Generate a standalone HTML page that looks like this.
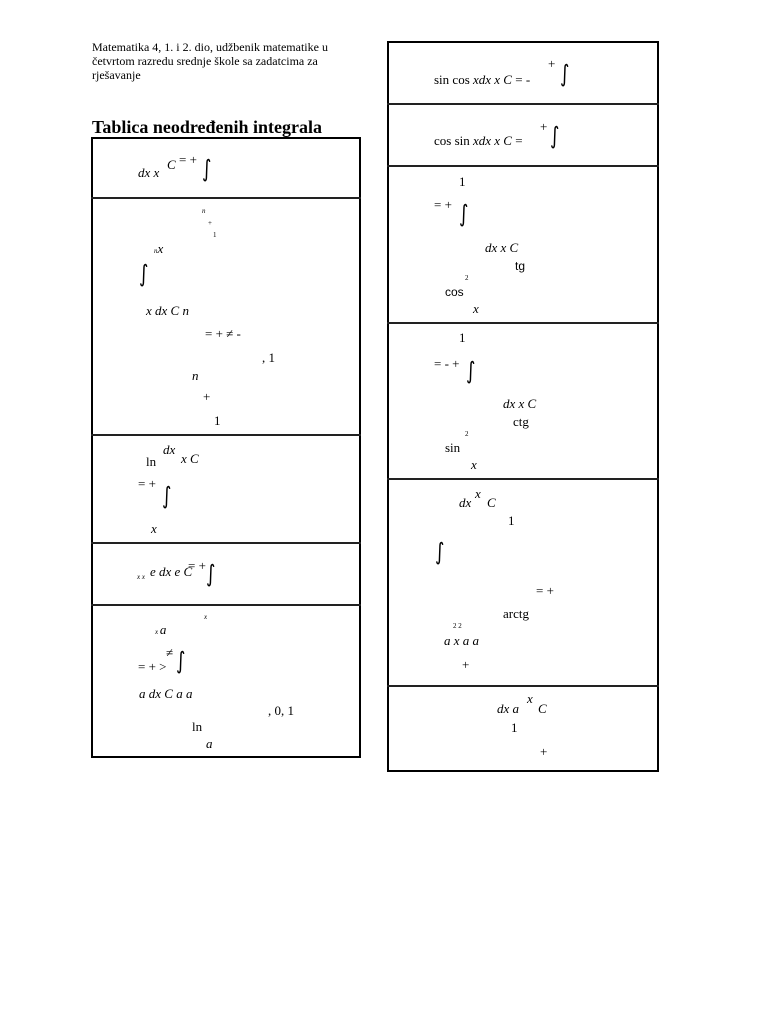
<!DOCTYPE html>
<html><head><meta charset="utf-8"><style>
body{margin:0;width:768px;height:1024px;background:#fff;position:relative;overflow:hidden;font-family:"Liberation Serif",serif;color:#000}
.t{position:absolute;font-size:13px;line-height:14px;white-space:nowrap;transform:translateY(-50%)}
.i{font-style:italic}
.s{font-size:7px;line-height:8px}
.ig{font-family:"DejaVu Sans",sans-serif;font-size:18px;line-height:18px;transform:translateY(-50%) scaleY(1.3)}
.sf{font-family:"Liberation Sans",sans-serif;font-size:12px}
.box{position:absolute;border:2px solid #000;box-sizing:border-box}
.hl{position:absolute;height:2px;background:#222}
</style></head><body>
<div class="t" style="left:92px;top:47px;font-size:12px">Matematika 4, 1. i 2. dio, udžbenik matematike u</div>
<div class="t" style="left:92px;top:61px;font-size:12px">četvrtom razredu srednje škole sa zadatcima za</div>
<div class="t" style="left:92px;top:75px;font-size:12px">rješavanje</div>
<div class="t" style="left:92px;top:127px;font-size:18px;font-weight:bold;line-height:20px">Tablica neodređenih integrala</div>

<div class="box" style="left:91px;top:137px;width:270px;height:621px"></div>
<div class="hl" style="left:91px;top:197px;width:270px"></div>
<div class="hl" style="left:91px;top:434px;width:270px"></div>
<div class="hl" style="left:91px;top:542px;width:270px"></div>
<div class="hl" style="left:91px;top:604px;width:270px"></div>

<div class="box" style="left:387px;top:41px;width:272px;height:731px"></div>
<div class="hl" style="left:387px;top:103px;width:272px"></div>
<div class="hl" style="left:387px;top:165px;width:272px"></div>
<div class="hl" style="left:387px;top:322px;width:272px"></div>
<div class="hl" style="left:387px;top:478px;width:272px"></div>
<div class="hl" style="left:387px;top:685px;width:272px"></div>

<!-- left rows -->
<div class="t i" style="left:138px;top:173px">dx x</div>
<div class="t i" style="left:167px;top:165px">C</div>
<div class="t" style="left:179px;top:160px">= +</div>
<div class="t ig" style="left:202px;top:170px">∫</div>

<div class="t i s" style="left:202px;top:211px">n</div>
<div class="t s" style="left:208px;top:223px">+</div>
<div class="t s" style="left:213px;top:235px">1</div>
<div class="t i" style="left:154px;top:250px"><span style="font-size:7px">n</span>x</div>
<div class="t ig" style="left:139px;top:275px">∫</div>
<div class="t i" style="left:146px;top:311px">x dx C n</div>
<div class="t" style="left:205px;top:334px">= + ≠ -</div>
<div class="t" style="left:262px;top:358px">, 1</div>
<div class="t i" style="left:192px;top:376px">n</div>
<div class="t" style="left:203px;top:397px">+</div>
<div class="t" style="left:214px;top:421px">1</div>

<div class="t" style="left:146px;top:462px">ln</div>
<div class="t i" style="left:163px;top:450px">dx</div>
<div class="t i" style="left:181px;top:459px">x C</div>
<div class="t" style="left:138px;top:484px">= +</div>
<div class="t ig" style="left:162px;top:497px">∫</div>
<div class="t i" style="left:151px;top:529px">x</div>

<div class="t i s" style="left:137px;top:577px">x x</div>
<div class="t i" style="left:150px;top:572px">e dx e C</div>
<div class="t" style="left:188px;top:566px">= +</div>
<div class="t ig" style="left:206px;top:575px">∫</div>

<div class="t i s" style="left:204px;top:617px">x</div>
<div class="t i" style="left:155px;top:631px"><span style="font-size:7px">x </span>a</div>
<div class="t" style="left:138px;top:667px">= + &gt;</div>
<div class="t" style="left:166px;top:653px">≠</div>
<div class="t ig" style="left:176px;top:662px">∫</div>
<div class="t i" style="left:139px;top:694px">a dx C a a</div>
<div class="t" style="left:268px;top:711px">, 0, 1</div>
<div class="t" style="left:192px;top:727px">ln</div>
<div class="t i" style="left:206px;top:744px">a</div>

<!-- right rows -->
<div class="t" style="left:434px;top:80px">sin cos <i>xdx x C</i> = -</div>
<div class="t" style="left:548px;top:64px">+</div>
<div class="t ig" style="left:560px;top:75px">∫</div>

<div class="t" style="left:434px;top:141px">cos sin <i>xdx x C</i> =</div>
<div class="t" style="left:540px;top:127px">+</div>
<div class="t ig" style="left:550px;top:137px">∫</div>

<div class="t" style="left:459px;top:182px">1</div>
<div class="t" style="left:434px;top:205px">= +</div>
<div class="t ig" style="left:459px;top:215px">∫</div>
<div class="t i" style="left:485px;top:248px">dx x C</div>
<div class="t sf" style="left:515px;top:266px">tg</div>
<div class="t s" style="left:465px;top:278px">2</div>
<div class="t sf" style="left:445px;top:292px">cos</div>
<div class="t i" style="left:473px;top:309px">x</div>

<div class="t" style="left:459px;top:338px">1</div>
<div class="t" style="left:434px;top:364px">= - +</div>
<div class="t ig" style="left:466px;top:372px">∫</div>
<div class="t i" style="left:503px;top:404px">dx x C</div>
<div class="t" style="left:513px;top:422px">ctg</div>
<div class="t s" style="left:465px;top:434px">2</div>
<div class="t" style="left:445px;top:448px">sin</div>
<div class="t i" style="left:471px;top:465px">x</div>

<div class="t i" style="left:459px;top:503px">dx</div>
<div class="t i" style="left:475px;top:494px">x</div>
<div class="t i" style="left:487px;top:503px">C</div>
<div class="t" style="left:508px;top:521px">1</div>
<div class="t ig" style="left:435px;top:553px">∫</div>
<div class="t" style="left:536px;top:591px">= +</div>
<div class="t" style="left:503px;top:614px">arctg</div>
<div class="t s" style="left:453px;top:626px">2 2</div>
<div class="t i" style="left:444px;top:641px">a x a a</div>
<div class="t" style="left:462px;top:665px">+</div>

<div class="t i" style="left:497px;top:709px">dx a</div>
<div class="t i" style="left:527px;top:699px">x</div>
<div class="t i" style="left:538px;top:709px">C</div>
<div class="t" style="left:511px;top:728px">1</div>
<div class="t" style="left:540px;top:752px">+</div>
</body></html>
